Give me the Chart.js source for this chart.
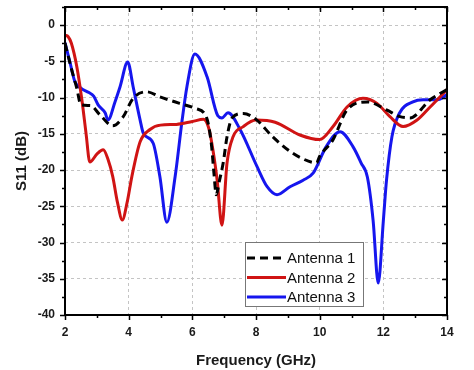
<!DOCTYPE html>
<html>
<head>
<meta charset="utf-8">
<script src="https://cdn.jsdelivr.net/npm/chart.js@4"></script>
<style>
    html, body { margin: 0; padding: 0; background: #fff; }
    #wrap { width: 474px; height: 370px; }
</style>
</head>
<body>
<div id="wrap"><canvas id="s11Chart"></canvas></div>
<script>
// values (GHz / dB)
const freqAntenna1 = [2.0, 2.2, 2.37, 2.5, 2.8, 3.1, 3.5, 3.82, 4.14, 4.57, 4.98, 5.6, 6.1, 6.45, 6.6, 6.68, 6.75, 6.85, 6.97, 7.09, 7.25, 7.6, 8.0, 8.5, 9.0, 9.4, 9.9, 10.0, 10.42, 10.86, 11.5, 12.1, 12.5, 12.84, 13.47, 14.0];
const s11Antenna1 = [-2.5, -6.0, -8.7, -11.0, -11.1, -12.4, -13.9, -12.7, -10.1, -9.2, -9.9, -10.8, -11.5, -12.8, -16.5, -20.5, -23.4, -21.5, -19.0, -15.4, -12.8, -12.2, -13.0, -15.3, -17.2, -18.3, -19.0, -18.1, -15.8, -11.7, -10.6, -11.7, -12.6, -12.8, -10.3, -8.9];

const freqAntenna2 = [2.0, 2.1, 2.2, 2.37, 2.53, 2.66, 2.78, 3.0, 3.2, 3.35, 3.5, 3.65, 3.8, 3.95, 4.1, 4.36, 4.67, 5.0, 5.5, 6.0, 6.35, 6.5, 6.6, 6.78, 6.93, 7.09, 7.28, 7.6, 8.0, 8.6, 9.4, 10.0, 10.42, 10.86, 11.36, 11.8, 12.2, 12.62, 13.06, 13.47, 14.0];
const s11Antenna2 = [-1.4, -1.6, -2.5, -5.7, -10.3, -14.9, -18.9, -17.8, -17.2, -18.5, -20.9, -24.5, -26.9, -24.5, -20.9, -16.1, -14.4, -13.8, -13.7, -13.3, -13.0, -14.0, -16.0, -21.4, -27.6, -19.0, -15.4, -14.0, -13.1, -13.4, -15.2, -15.8, -14.0, -11.3, -10.1, -10.8, -12.6, -14.0, -13.1, -11.3, -8.9];

const freqAntenna3 = [2.0, 2.16, 2.31, 2.5, 2.75, 2.9, 3.04, 3.26, 3.35, 3.57, 3.73, 3.97, 4.14, 4.36, 4.46, 4.77, 4.98, 5.2, 5.46, 5.68, 5.83, 6.08, 6.46, 6.8, 6.93, 7.12, 7.5, 8.03, 8.35, 8.66, 9.07, 9.48, 9.8, 10.2, 10.64, 11.05, 11.3, 11.5, 11.68, 11.84, 12.0, 12.1, 12.27, 12.5, 12.93, 13.25, 13.7, 14.0];
const s11Antenna3 = [-2.4, -5.2, -7.8, -8.7, -9.3, -9.8, -11.0, -12.1, -13.1, -10.6, -8.5, -5.1, -8.5, -13.1, -14.9, -16.3, -20.9, -27.2, -20.9, -13.1, -8.5, -4.0, -7.1, -12.5, -12.8, -12.1, -14.4, -19.5, -22.3, -23.4, -22.3, -21.4, -20.4, -16.8, -14.7, -16.8, -19.0, -21.0, -27.0, -35.6, -27.0, -21.4, -15.4, -12.2, -10.6, -10.3, -10.3, -9.6];

const seriesNames = ['Antenna 1', 'Antenna 2', 'Antenna 3'];
const xTickValues = [2, 4, 6, 8, 10, 12, 14];
const yTickValues = [-40, -35, -30, -25, -20, -15, -10, -5, 0];

const fontFamily = "'Liberation Sans', Arial, sans-serif";

function toPoints(xs, ys) {
    return xs.map((v, i) => ({ x: v, y: ys[i] }));
}

// frame plus minor/major ticks (outward on bottom/left, inward on top/right)
const frameAndTicks = {
    id: 'frameAndTicks',
    afterDraw(chart) {
        const { ctx, chartArea: a, scales: { x, y } } = chart;
        ctx.save();
        ctx.strokeStyle = '#000';
        ctx.lineWidth = 1.5;
        ctx.beginPath();
        for (let v = 2; v <= 14; v += 1) {
            const px = Math.round(x.getPixelForValue(v)) + 0.5;
            const len = v % 2 === 0 ? 5 : 3;
            ctx.moveTo(px, a.bottom); ctx.lineTo(px, a.bottom + len);
            ctx.moveTo(px, a.top); ctx.lineTo(px, a.top + len);
        }
        for (let v = -40; v <= 2.5; v += 2.5) {
            const py = Math.round(y.getPixelForValue(v)) + 0.5;
            const len = v % 5 === 0 ? 5 : 3;
            ctx.moveTo(a.left, py); ctx.lineTo(a.left - len, py);
            ctx.moveTo(a.right, py); ctx.lineTo(a.right - len, py);
        }
        ctx.stroke();
        ctx.lineWidth = 2;
        ctx.strokeRect(a.left, a.top, a.right - a.left, a.bottom - a.top);
        ctx.restore();
    }
};

// boxed legend inside the plot, lower middle
const boxLegend = {
    id: 'boxLegend',
    afterDraw(chart) {
        const { ctx, chartArea: a } = chart;
        const left = a.left + 180, top = a.top + 235, w = 118, h = 64;
        ctx.save();
        ctx.fillStyle = '#fff';
        ctx.fillRect(left, top, w, h);
        ctx.strokeStyle = '#777';
        ctx.lineWidth = 1;
        ctx.strokeRect(left + 0.5, top + 0.5, w, h);
        ctx.font = '15px ' + fontFamily;
        ctx.textBaseline = 'middle';
        chart.data.datasets.forEach((ds, i) => {
            const cy = top + 16 + i * 19.5;
            ctx.strokeStyle = ds.borderColor;
            ctx.lineWidth = 3;
            ctx.setLineDash(ds.borderDash || []);
            ctx.beginPath();
            ctx.moveTo(left + 2, cy);
            ctx.lineTo(left + 41, cy);
            ctx.stroke();
            ctx.setLineDash([]);
            ctx.fillStyle = '#111';
            ctx.fillText(ds.label, left + 42, cy + 1);
        });
        ctx.restore();
    }
};

const ctx = document.getElementById('s11Chart').getContext('2d');

const s11Chart = new Chart(ctx, {
    type: 'line',
    data: {
        datasets: [
            {
                label: seriesNames[0],
                data: toPoints(freqAntenna1, s11Antenna1),
                borderColor: '#000000',
                borderDash: [8, 5],
                borderWidth: 3,
                pointRadius: 0,
                cubicInterpolationMode: 'monotone',
            },
            {
                label: seriesNames[1],
                data: toPoints(freqAntenna2, s11Antenna2),
                borderColor: '#d01414',
                borderWidth: 3,
                pointRadius: 0,
                cubicInterpolationMode: 'monotone',
            },
            {
                label: seriesNames[2],
                data: toPoints(freqAntenna3, s11Antenna3),
                borderColor: '#1616ee',
                borderWidth: 3,
                pointRadius: 0,
                cubicInterpolationMode: 'monotone',
            },
        ],
    },
    options: {
        responsive: true,
        maintainAspectRatio: false,
        animation: false,
        layout: { padding: { left: 0, top: 7, right: 27, bottom: 0 } },
        plugins: {
            legend: { display: false },
            tooltip: { enabled: false },
        },
        scales: {
            x: {
                type: 'linear',
                min: 2,
                max: 14,
                afterBuildTicks: (scale) => { scale.ticks = xTickValues.map(v => ({ value: v })); },
                afterFit: (scale) => { scale.height = 55; scale.paddingLeft = 0; scale.paddingRight = 0; },
                grid: { color: '#c4c4c4', lineWidth: 1, drawTicks: false },
                border: { display: false, dash: [3, 3] },
                ticks: {
                    padding: 10,
                    color: '#1a1a1a',
                    font: { family: fontFamily, size: 12, weight: 'bold' },
                },
                title: {
                    display: true,
                    text: 'Frequency (GHz)',
                    color: '#1a1a1a',
                    font: { family: fontFamily, size: 15, weight: 'bold' },
                    padding: { top: 14, bottom: 0 },
                },
            },
            y: {
                type: 'linear',
                min: -40,
                max: 2.5,
                afterBuildTicks: (scale) => { scale.ticks = yTickValues.map(v => ({ value: v })); },
                afterFit: (scale) => { scale.width = 65; scale.paddingTop = 0; scale.paddingBottom = 0; },
                grid: { color: '#c4c4c4', lineWidth: 1, drawTicks: false },
                border: { display: false, dash: [3, 3] },
                ticks: {
                    padding: 10,
                    color: '#1a1a1a',
                    font: { family: fontFamily, size: 12, weight: 'bold' },
                },
                title: {
                    display: true,
                    text: 'S11 (dB)',
                    color: '#1a1a1a',
                    font: { family: fontFamily, size: 15, weight: 'bold' },
                    padding: { top: 13, bottom: 0 },
                },
            },
        },
    },
    plugins: [frameAndTicks, boxLegend],
});
</script>
</body>
</html>
